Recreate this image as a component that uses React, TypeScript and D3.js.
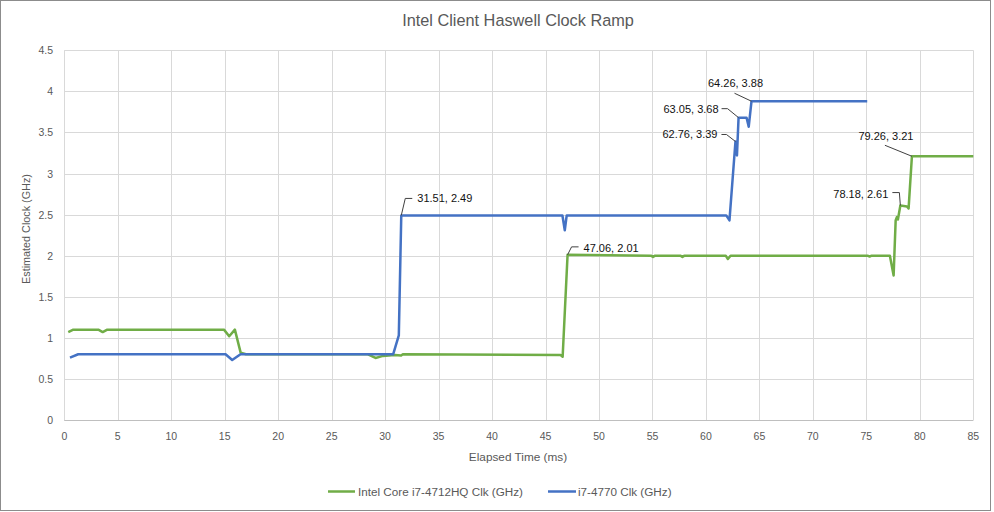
import { useEffect } from "react";
import * as d3 from "d3";

// Intel Core i7-4712HQ (green)
const hqTime = [
  0.37, 0.84, 3.18, 3.59, 4.02, 14.93, 15.42, 15.95, 16.49, 16.98, 28.4, 29.1,
  29.8, 30.9, 31.5, 31.66, 46.4, 46.6, 47.06, 54.85, 55.05, 55.25, 57.6, 57.8,
  58.0, 61.85, 62.05, 62.3, 75.1, 75.3, 75.5, 77.2, 77.55, 77.74, 77.85, 77.95,
  78.18, 78.8, 78.95, 79.26, 85,
];
const hqClock = [
  1.07, 1.1, 1.1, 1.07, 1.1, 1.1, 1.02, 1.1, 0.82, 0.8, 0.8, 0.755, 0.78, 0.79,
  0.785, 0.8, 0.79, 0.77, 2.01, 2.0, 1.985, 2.0, 2.0, 1.985, 2.0, 2.0, 1.96,
  2.0, 2.0, 1.99, 2.0, 2.0, 1.76, 2.43, 2.47, 2.44, 2.61, 2.6, 2.575, 3.21,
  3.21,
];

// i7-4770 (blue)
const i7Time = [
  0.53, 1.3, 15.08, 15.7, 16.48, 30.75, 31.28, 31.51, 46.58, 46.8, 46.98, 61.9,
  62.2, 62.76, 62.9, 63.05, 63.8, 64.0, 64.26, 75.08,
];
const i7Clock = [
  0.76, 0.8, 0.8, 0.73, 0.8, 0.8, 1.03, 2.49, 2.49, 2.31, 2.49, 2.49, 2.43,
  3.39, 3.22, 3.68, 3.68, 3.57, 3.88, 3.88,
];

// points that carry a data callout
const hqLabelled = [47.06, 78.18, 79.26];
const i7Labelled = [31.51, 62.76, 63.05, 64.26];

const xTicks = [0, 5, 10, 15, 20, 25, 30, 35, 40, 45, 50, 55, 60, 65, 70, 75, 80, 85];
const yTicks = [0, 0.5, 1, 1.5, 2, 2.5, 3, 3.5, 4, 4.5];

const seriesNames = ["Intel Core i7-4712HQ Clk (GHz)", "i7-4770 Clk (GHz)"];

const W = 994;
const H = 512;
const FONT = "'Liberation Sans', Arial, sans-serif";
const GREEN = "#70ad47";
const BLUE = "#4472c4";

type Pt = { t: number; v: number };

const zip = (ts: number[], vs: number[]): Pt[] => ts.map((t, i) => ({ t, v: vs[i] }));

// callout layout: leader path offsets from the point, text anchor/offset
const calloutStyle: Record<string, { path: [number, number][]; tx: number; ty: number; anchor: string }> = {
  "31.51": { path: [[0, 0], [4, -17], [11, -17]], tx: 16, ty: -17, anchor: "start" },
  "47.06": { path: [[0, 0], [4, -8], [11, -8]], tx: 16, ty: -7, anchor: "start" },
  "62.76": { path: [[0, 0], [-9, -7], [-14, -7]], tx: -18, ty: -7, anchor: "end" },
  "63.05": { path: [[0, 0], [-11, -9], [-17, -9]], tx: -20, ty: -9, anchor: "end" },
  "64.26": { path: [[0, 0], [-17, -8]], tx: -16, ty: -18, anchor: "middle" },
  "79.26": { path: [[0, 0], [-27, -11]], tx: -26, ty: -20, anchor: "middle" },
  "78.18": { path: [[0, 0], [-1, -13], [-8, -13]], tx: -12, ty: -12, anchor: "end" },
};

export default function App() {
  useEffect(() => {
    document.body.style.margin = "0";
  }, []);

  const x = d3.scaleLinear().domain([0, 85]).range([64.3, 973.3]);
  const y = d3.scaleLinear().domain([0, 4.5]).range([420, 50.3]);

  const line = d3
    .line<Pt>()
    .x((d) => x(d.t))
    .y((d) => y(d.v));

  const hq = zip(hqTime, hqClock);
  const i7 = zip(i7Time, i7Clock);

  const callouts = [
    ...hq.filter((d) => hqLabelled.includes(d.t)),
    ...i7.filter((d) => i7Labelled.includes(d.t)),
  ];

  return (
    <svg width={W} height={H} style={{ display: "block" }} fontFamily={FONT}>
      <rect x={0} y={0} width={W} height={H} fill="#fff" />
      <rect x={0.5} y={0.5} width={990} height={510} fill="none" stroke="#8c8c8c" />

      <text x={518} y={20} textAnchor="middle" dominantBaseline="central" fontSize={16.3} fill="#595959">
        Intel Client Haswell Clock Ramp
      </text>

      {/* grid */}
      <g stroke="#d9d9d9" strokeWidth={1}>
        {yTicks.map((t) => (
          <line key={"gy" + t} x1={x(0)} x2={x(85)} y1={Math.round(y(t)) + 0.5} y2={Math.round(y(t)) + 0.5} />
        ))}
        {xTicks.map((t) => (
          <line key={"gx" + t} x1={Math.round(x(t)) + 0.5} x2={Math.round(x(t)) + 0.5} y1={y(4.5)} y2={y(0)} />
        ))}
      </g>
      <line x1={x(0)} x2={x(85)} y1={Math.round(y(0)) + 0.5} y2={Math.round(y(0)) + 0.5} stroke="#bfbfbf" />

      {/* tick labels */}
      <g fontSize={10.5} fill="#595959">
        {yTicks.map((t) => (
          <text key={"ty" + t} x={53} y={y(t)} textAnchor="end" dominantBaseline="central">
            {t}
          </text>
        ))}
        {xTicks.map((t) => (
          <text key={"tx" + t} x={x(t)} y={436} textAnchor="middle" dominantBaseline="central">
            {t}
          </text>
        ))}
      </g>

      <text x={518} y={457} textAnchor="middle" dominantBaseline="central" fontSize={11.8} fill="#595959">
        Elapsed Time (ms)
      </text>
      <text
        transform="translate(26,229) rotate(-90)"
        textAnchor="middle"
        dominantBaseline="central"
        fontSize={10.8}
        fill="#595959"
      >
        Estimated Clock (GHz)
      </text>

      {/* series */}
      <path d={line(hq) ?? ""} fill="none" stroke={GREEN} strokeWidth={2.5} strokeLinejoin="round" />
      <path d={line(i7) ?? ""} fill="none" stroke={BLUE} strokeWidth={2.5} strokeLinejoin="round" />

      {/* callouts */}
      {callouts.map((d) => {
        const key = d.t.toFixed(2);
        const s = calloutStyle[key];
        const px = x(d.t);
        const py = y(d.v);
        return (
          <g key={"c" + key}>
            <polyline
              points={s.path.map(([dx, dy]) => `${px + dx},${py + dy}`).join(" ")}
              fill="none"
              stroke="#404040"
              strokeWidth={1}
            />
            <text
              x={px + s.tx}
              y={py + s.ty}
              textAnchor={s.anchor}
              dominantBaseline="central"
              fontSize={11}
              fill="#111"
            >
              {`${d.t.toFixed(2)}, ${d.v.toFixed(2)}`}
            </text>
          </g>
        );
      })}

      {/* legend */}
      <g fontSize={11.7} fill="#595959">
        <line x1={328} x2={355} y1={491.5} y2={491.5} stroke={GREEN} strokeWidth={2.5} />
        <text x={358} y={491.5} dominantBaseline="central">
          {seriesNames[0]}
        </text>
        <line x1={548} x2={576} y1={491.5} y2={491.5} stroke={BLUE} strokeWidth={2.5} />
        <text x={578} y={491.5} dominantBaseline="central">
          {seriesNames[1]}
        </text>
      </g>
    </svg>
  );
}
